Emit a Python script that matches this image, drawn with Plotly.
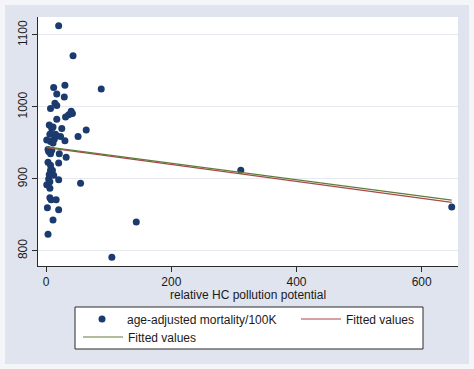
import plotly.graph_objects as go

# Data
hc = [20, 43, 12, 30, 88, 17, 29, 14, 17, 7, 36, 42, 40, 31, 17, 11, 9, 25, 64, 51,
      23, 16, 6, 30, 7, 11, 13, 4, 7, 21, 3, 32, 20, 3, 7, 7, 5, 4, 20, 55,
      6, 1, 6, 6, 8, 16, 2, 20, 11, 3, 105, 144, 311, 648, 10, 15, 9, 5, 12, 1]
mortality = [1113, 1071, 1027, 1030, 1025, 1018, 1014, 1005, 1002, 998, 989, 991, 994, 986, 983,
             972, 970, 970, 968, 959, 959, 960, 962, 953, 952, 950, 955, 938, 935, 935,
             941, 930, 922, 923, 919, 912, 906, 900, 899, 894, 896, 892, 887, 874, 871,
             871, 860, 857, 843, 823, 791, 840, 912, 861, 912, 962, 940, 975, 905, 954]
fit_x = [1, 648]
fit_red = [943.5, 867.5]
fit_green = [944.5, 870.5]
x_ticks = [0, 200, 400, 600]
y_ticks = [800, 900, 1000, 1100]

FONT = "Liberation Sans, Arial, sans-serif"
W, H = 474, 369
ML, MR, MT, MB = 38, 16, 17, 103
PW, PH = W - ML - MR, H - MT - MB


def px(xp):
    return (xp - ML) / PW


def py(yp):
    return (H - MB - yp) / PH


fig = go.Figure()
fig.add_trace(go.Scatter(x=hc, y=mortality, mode="markers", name="age-adjusted mortality/100K",
                         marker=dict(color="#1b3a6d", size=7, line=dict(width=0)),
                         legend="legend"))
fig.add_trace(go.Scatter(x=fit_x, y=fit_red, mode="lines", name="Fitted values",
                         line=dict(color="#a8474c", width=1.2), legend="legend2"))
fig.add_trace(go.Scatter(x=fit_x, y=fit_green, mode="lines", name="Fitted values",
                         line=dict(color="#5e7d36", width=1.2), legend="legend3"))

axis_common = dict(showline=True, linecolor="#2a2a2a", linewidth=1, ticks="outside",
                   ticklen=5, tickcolor="#2a2a2a", tickwidth=1, zeroline=False,
                   tickfont=dict(family=FONT, size=12, color="#1a1a1a"))

fig.update_xaxes(range=[-13, 658], tickvals=x_ticks, showgrid=False, **axis_common)
fig.update_yaxes(range=[779, 1125], tickvals=y_ticks, showgrid=True, gridcolor="#e6e9ee",
                 gridwidth=1, tickangle=-90, **axis_common)

legend_common = dict(orientation="h", xanchor="left", yanchor="middle",
                     bgcolor="rgba(0,0,0,0)", borderwidth=0, itemwidth=40,
                     font=dict(family=FONT, size=12, color="#1a1a1a"))

fig.update_layout(
    width=W, height=H,
    margin=dict(l=ML, r=MR, t=MT, b=MB, pad=0, autoexpand=False),
    paper_bgcolor="#dfe4ee",
    plot_bgcolor="#ffffff",
    font=dict(family=FONT, size=12, color="#1a1a1a"),
    showlegend=True,
    legend=dict(x=px(77), y=py(319), **legend_common),
    legend2=dict(x=px(296), y=py(319), **legend_common),
    legend3=dict(x=px(78), y=py(337), **legend_common),
    shapes=[
        # legend box
        dict(type="rect", xref="paper", yref="paper", layer="below",
             x0=px(75), x1=px(423), y0=py(349), y1=py(307),
             fillcolor="#ffffff", line=dict(color="#2a2a2a", width=1)),
        # light outer frame around the graph region
        dict(type="rect", xref="paper", yref="paper", layer="above",
             x0=px(0), x1=px(W), y0=py(H), y1=py(0),
             fillcolor="rgba(0,0,0,0)", line=dict(color="#f4f5f8", width=10)),
    ],
    annotations=[
        dict(text="relative HC pollution potential", xref="paper", yref="paper",
             x=0.5, y=py(295), xanchor="center", yanchor="middle", showarrow=False,
             font=dict(family=FONT, size=12, color="#1a1a1a")),
    ],
)

fig.write_html("out.html", config={"displayModeBar": False},
               post_script="document.body.style.margin='0';document.body.style.overflow='hidden';")
